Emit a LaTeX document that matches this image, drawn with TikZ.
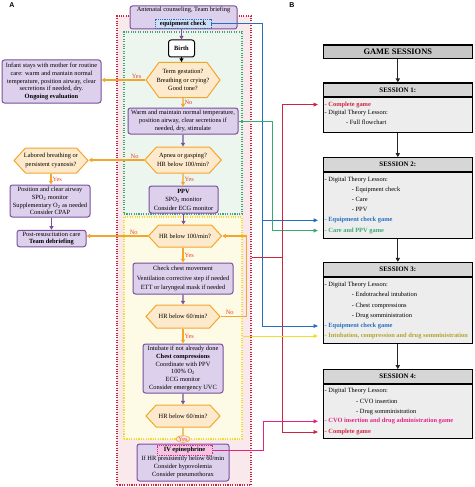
\documentclass[tikz,border=0pt]{standalone}
\usepackage{fontspec}
\setmainfont{Liberation Serif}
\newfontfamily\panelfont{Liberation Sans}
\usepackage{tikz}
\usetikzlibrary{shapes.geometric, shapes.symbols, positioning, arrows.meta}

\definecolor{stepfill}{RGB}{221,208,236}
\definecolor{stepline}{RGB}{122,80,156}
\definecolor{askfill}{RGB}{253,234,204}
\definecolor{askline}{RGB}{243,166,45}
\definecolor{ynred}{RGB}{232,66,30}
\definecolor{redline}{RGB}{204,38,62}
\definecolor{redfill}{RGB}{250,233,236}
\definecolor{greenline}{RGB}{58,170,112}
\definecolor{greenfill}{RGB}{236,246,238}
\definecolor{yellowline}{RGB}{238,224,40}
\definecolor{yellowfill}{RGB}{253,251,229}
\definecolor{blueline}{RGB}{38,110,190}
\definecolor{bluefill}{RGB}{206,222,245}
\definecolor{pinkline}{RGB}{226,36,132}
\definecolor{pinkfill}{RGB}{244,196,224}
\definecolor{olivetext}{RGB}{178,164,40}
\definecolor{titlegray}{RGB}{198,198,198}
\definecolor{headgray}{RGB}{214,214,214}
\definecolor{bodygray}{RGB}{237,237,237}

\tikzset{
  stepfont/.style={font=\fontsize{6.4}{7.8}\selectfont},
  stepbox/.style={rectangle, rounded corners=2.5pt, draw=stepline, fill=stepfill, line width=1pt, align=center, inner sep=1pt, stepfont},
  askbox/.style={signal, signal to=east and west, signal pointer angle=95, draw=askline, fill=askfill, line width=1pt, align=center, inner sep=0.5pt, font=\fontsize{6.4}{8.2}\selectfont},
  zone/.style={rectangle, line width=1.1pt, dash pattern=on 1.1pt off 1.3pt, inner sep=0pt},
  tagbox/.style={rectangle, line width=0.9pt, dash pattern=on 0.9pt off 0.9pt, inner sep=0pt, font=\fontsize{6.4}{7.8}\selectfont\bfseries},
  yn/.style={text=ynred, font=\fontsize{6.4}{7}\selectfont, inner sep=1pt},
  flow/.style={draw=stepline, line width=1.1pt, -{Triangle[length=3.6pt, width=4pt]}},
  goflow/.style={flow, draw=askline},
  blackflow/.style={flow, draw=black},
  link/.style={line width=0.9pt, -{Triangle[length=4.5pt, width=3.8pt]}, shorten >=6.5pt},
  sesstitle/.style={rectangle, draw=black, line width=1.3pt, fill=titlegray, minimum width=149pt, inner sep=0pt, font=\fontsize{8.4}{9}\selectfont\bfseries},
  sesshead/.style={rectangle, draw=black, line width=1.2pt, fill=headgray, minimum width=149pt, minimum height=13.7pt, inner sep=0pt, font=\fontsize{6.9}{8}\selectfont\bfseries},
  sessbody/.style={rectangle, draw=black, line width=1.2pt, fill=bodygray, minimum width=149pt, inner sep=0pt},
  item/.style={anchor=base west, inner sep=0pt, font=\fontsize{6.4}{8}\selectfont},
  game/.style={item, font=\fontsize{6.4}{8}\selectfont\bfseries},
  sessflow/.style={draw=black!85, line width=1.3pt, -{Triangle[length=4pt, width=4.2pt]}}
}

\begin{document}
\begin{tikzpicture}[x=1pt, y=-1pt]
    \useasboundingbox (0,0) rectangle (474,487);

    % Panel letters
    \node[font={\panelfont\bfseries\fontsize{7}{8}\selectfont}] (tagA) at (12,5.5) {A};
    \node[font={\panelfont\bfseries\fontsize{7}{8}\selectfont}] (tagB) at (292,5.5) {B};

    % Zones
    \node[zone, draw=redline, fill=redfill, minimum width=134pt, minimum height=469pt] (redzone) at (184,250.5) {};
    \node[zone, draw=greenline, fill=greenfill, minimum width=118pt, minimum height=182pt] (greenzone) at (183,123) {};
    \node[zone, draw=yellowline, fill=yellowfill, minimum width=118pt, minimum height=222pt] (yellowzone) at (183,328) {};

    % Flowchart nodes
    \node[stepbox, minimum width=107pt, minimum height=23pt, label={[stepfont, anchor=north, inner sep=0pt, yshift=-1.4pt]north:{Antenatal counseling, Team briefing}}] (brief) at (183.5,17.5) {};
    \node[tagbox, draw=blueline, fill=bluefill, minimum width=56pt, minimum height=9pt] (eqcheck) at (183,23.5) {equipment check};
    \node[stepbox, draw=black, fill=white, minimum width=26pt, minimum height=17pt, font=\fontsize{6.4}{7.8}\selectfont\bfseries] (birth) at (181.5,48.5) {Birth};
    \node[askbox, signal pointer angle=107, inner xsep=-3.5pt, minimum width=74pt, minimum height=35pt] (term) at (183,80) {Term gestation?\\Breathing or crying?\\Good tone?};
    \node[stepbox, minimum width=99pt, minimum height=43pt] (stay) at (51.5,81.5) {Infant stays with mother for routine\\care: warm and mantain normal\\temperature, position airway, clear\\secretions if needed, dry.\\\textbf{Ongoing evaluation}};
    \node[stepbox, minimum width=110pt, minimum height=26pt] (warm) at (183,121) {Warm and maintain normal temperature,\\position airway, clear secretions if\\needed, dry, stimulate};
    \node[askbox, minimum width=74pt, minimum height=26pt] (apnea) at (183,160) {Apnea or gasping?\\HR below 100/min?};
    \node[askbox, inner xsep=-1.5pt, minimum width=74pt, minimum height=25pt] (labored) at (51,160.5) {Labored breathing or\\persistent cyanosis?};
    \node[stepbox, minimum width=80pt, minimum height=32pt] (cpap) at (50,201) {Position and clear airway\\SPO\textsubscript{2} monitor\\Supplementary O\textsubscript{2} as needed\\Consider CPAP};
    \node[stepbox, minimum width=69pt, minimum height=16.5pt] (debrief) at (51.5,238.5) {Post-resuscitation care\\\textbf{Team debriefing}};
    \node[stepbox, minimum width=69pt, minimum height=27pt, font=\fontsize{6.4}{8.5}\selectfont] (ppv) at (183.5,199.5) {\textbf{PPV}\\SPO\textsubscript{2} monitor\\Consider ECG monitor};
    \node[askbox, minimum width=68pt, minimum height=22pt] (hr100) at (185,236) {HR below 100/min?};
    \node[stepbox, minimum width=100pt, minimum height=31pt, font=\fontsize{6.4}{9.6}\selectfont] (chest) at (183,278.5) {Check chest movement\\Ventilation corrective step if needed\\ETT or laryngeal mask if needed};
    \node[askbox, minimum width=74pt, minimum height=23pt] (hrsixty) at (183,316.5) {HR below 60/min?};
    \node[stepbox, minimum width=80pt, minimum height=49pt] (compress) at (183,368.5) {Intubate if not already done\\\textbf{Chest compressions}\\Coordinate with PPV\\100\% O\textsubscript{2}\\ECG monitor\\Consider emergency UVC};
    \node[askbox, minimum width=74pt, minimum height=22pt] (hrsixtyb) at (183,416) {HR below 60/min?};
    \node[stepbox, minimum width=92pt, minimum height=37pt] (epi) at (183,462.5) {\strut\\If HR presistently below 60/min\\Consider hypovolemia\\Consider pneumothorax};
    \node[tagbox, draw=pinkline, fill=pinkfill, minimum width=55pt, minimum height=10pt] (epitag) at (184.5,450) {IV epinephrine};

    % Flowchart connections
    \draw[flow] (birth.north |- brief.south) -- (birth.north);
    \draw[blackflow] (birth.south) -- (birth.south |- term.north);
    \draw[goflow] (term.west) -- node[yn, above, pos=0.2] (yes1) {Yes} (term.west -| stay.east);
    \draw[goflow] (term) -- node[yn, right] (no1) {No} (warm);
    \draw[flow] (warm) -- (apnea);
    \draw[goflow] (apnea.west) -- node[yn, above, pos=0.17] (no2) {No} (apnea.west -| labored.east);
    \draw[goflow] (apnea) -- node[yn, right] (yes2) {Yes} (ppv.north -| apnea.south);
    \draw[goflow] (labored.south) -- node[yn, right] (yes3) {Yes} (labored.south |- cpap.north);
    \draw[flow] (cpap.south -| debrief.north) -- (debrief.north);
    \draw[flow] (ppv.south) -- (ppv.south |- hr100.north);
    \draw[goflow] (hr100.west) -- node[yn, above, pos=0.23] (no3) {No} (hr100.west -| debrief.east);
    \draw[goflow] (chest.north |- hr100.south) -- node[yn, right] (yes4) {Yes} (chest.north);
    \draw[flow] (chest) -- (hrsixty);
    \draw[goflow] (hrsixty.east) -- node[yn, above, pos=0.35] (no4) {No} ++(26,0) |- (hr100.east);
    \draw[goflow] (hrsixty) -- node[yn, right] (yes5) {Yes} (compress);
    \draw[flow] (compress) -- (hrsixtyb);
    \draw[goflow] (hrsixtyb) -- node[yn, ellipse, draw=askline, fill=redfill, line width=0.6pt, inner sep=0.2pt, pos=0.72] (yes6) {Yes} (epi);

    % Game sessions
    \node[sesstitle, minimum height=13.3pt] (sessions) at (397.8,51.7) {GAME SESSIONS};
    \node[sesshead] (s1head) at (397.8,89.8) {SESSION 1:};
    \node[sessbody, minimum height=35pt, below=0pt of s1head] (s1body) {};
    \node[sesshead] (s2head) at (397.8,164.6) {SESSION 2:};
    \node[sessbody, minimum height=66pt, below=0pt of s2head] (s2body) {};
    \node[sesshead] (s3head) at (397.8,269.3) {SESSION 3:};
    \node[sessbody, minimum height=66.5pt, below=0pt of s3head] (s3body) {};
    \node[sesshead] (s4head) at (397.8,376.6) {SESSION 4:};
    \node[sessbody, minimum height=54pt, below=0pt of s4head] (s4body) {};

    \node[game, text=redline] (s1game) at (324.5,106.1) {- Complete game};
    \node[item] (s1lesson) at (324.5,114.8) {- Digital Theory Lesson:};
    \node[item] (s1full) at (346,124.1) {- Full flowchart};

    \node[item] (s2lesson) at (324.5,181.1) {- Digital Theory Lesson:};
    \node[item] (s2check) at (351.7,191.1) {- Equipment check};
    \node[item] (s2care) at (351.7,201.1) {- Care};
    \node[item] (s2vent) at (351.7,211.1) {- PPV};
    \node[game, text=blueline] (s2eq) at (324.5,221.8) {- Equipment check game};
    \node[game, text=greenline] (s2ppv) at (324.5,232.1) {- Care and PPV game};

    \node[item] (s3lesson) at (324.5,286.8) {- Digital Theory Lesson:};
    \node[item] (s3tube) at (351.7,296.8) {- Endotracheal intubation};
    \node[item] (s3chest) at (351.7,307.1) {- Chest compressions};
    \node[item] (s3drug) at (351.7,317.1) {- Drug somministration};
    \node[game, text=blueline] (s3eq) at (324.5,327.5) {- Equipment check game};
    \node[game, text=olivetext] (s3int) at (324.5,337.5) {- Intubation, compression and drug somministration};

    \node[item] (s4lesson) at (324.5,392.8) {- Digital Theory Lesson:};
    \node[item] (s4cvoins) at (356,403.1) {- CVO insertion};
    \node[item] (s4drug) at (356,413.1) {- Drug somministration};
    \node[game, text=pinkline] (s4cvo) at (324.5,422.8) {- CVO insertion and drug administration game};
    \node[game, text=redline] (s4game) at (324.5,433.5) {- Complete game};

    \draw[sessflow] (sessions) -- (s1head);
    \draw[sessflow] (s1body) -- (s2head);
    \draw[sessflow] (s2body) -- (s3head);
    \draw[sessflow] (s3body) -- (s4head);

    % Links between the panels
    \coordinate (bluebus) at (262.3,23.5);
    \coordinate (redbus) at (282.3,257);
    \draw[link, draw=blueline] (eqcheck.east) -- (bluebus) |- (s3eq.west);
    \draw[link, draw=blueline] (bluebus |- s2eq.west) -- (s2eq.west);
    \draw[link, draw=greenline] (warm.east) -- ++(33.7,0) |- (s2ppv.west);
    \draw[line width=0.9pt, draw=redline] (redzone.east |- redbus) -- (redbus);
    \draw[link, draw=redline] (redbus) |- (s1game.west);
    \draw[link, draw=redline] (redbus) |- (s4game.west);
    \draw[link, draw=yellowline] (yellowzone.east |- s3int.west) -- (s3int.west);
    \draw[link, draw=pinkline] (epitag.east) -- ++(50.5,0) |- (s4cvo.west);
\end{tikzpicture}
\end{document}
